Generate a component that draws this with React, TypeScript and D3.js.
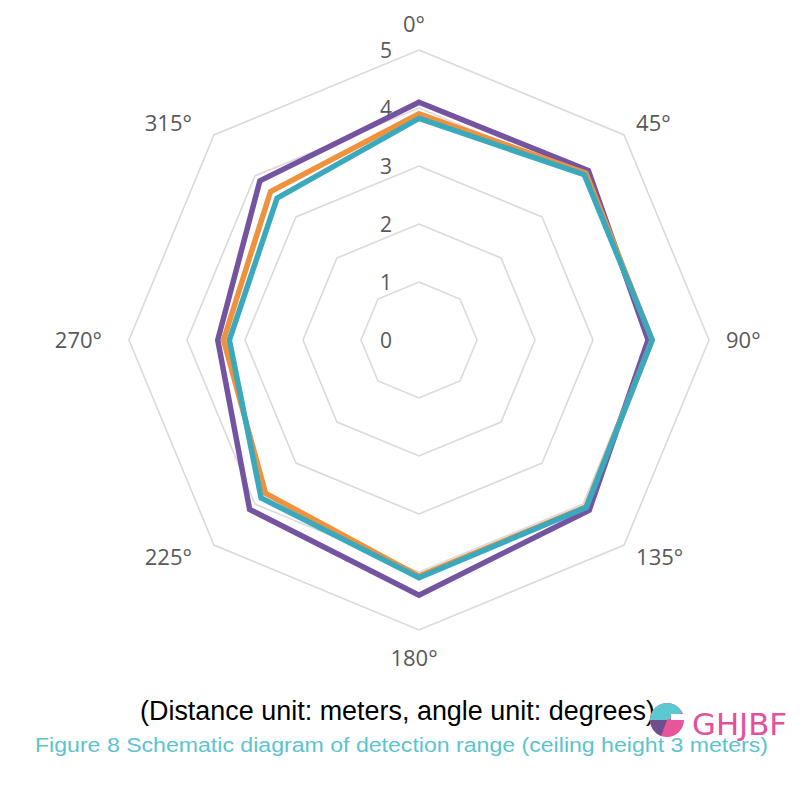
import React from "react";
import * as d3 from "d3";

const angleLabels = ["0°", "45°", "90°", "135°", "180°", "225°", "270°", "315°"];
const tickValues = [0, 1, 2, 3, 4, 5];
const seriesPurple = [4.1, 4.13, 3.95, 4.15, 4.4, 4.13, 3.47, 3.88];
const seriesOrange = [3.9, 4.07, 4.02, 4.07, 4.07, 3.74, 3.37, 3.62];
const seriesTeal = [3.82, 4.03, 4.02, 4.08, 4.1, 3.85, 3.27, 3.46];

const seriesList = [
  { name: "purple", values: seriesPurple, color: "#7453a1" },
  { name: "orange", values: seriesOrange, color: "#f0913b" },
  { name: "teal", values: seriesTeal, color: "#3aa9be" },
];

const caption1 = "(Distance unit: meters, angle unit: degrees)";
const caption2 = "Figure 8 Schematic diagram of detection range (ceiling height 3 meters)";
const logoText = "GHJBF";

export default function App() {
  const W = 800;
  const H = 800;
  const cx = 419;
  const cy = 340;
  const rScale = d3.scaleLinear().domain([0, 5]).range([0, 290]);
  const aScale = d3.scaleLinear().domain([0, angleLabels.length]).range([0, 2 * Math.PI]);

  const radial = d3
    .lineRadial<number>()
    .angle((_, i) => aScale(i))
    .radius((d) => rScale(d))
    .curve(d3.curveLinearClosed);

  const gridLevels = tickValues.filter((v) => v > 0);
  const labelR = 307;
  const font = "'Open Sans', sans-serif";

  return (
    <svg
      width={W}
      height={H}
      viewBox={`0 0 ${W} ${H}`}
      style={{ position: "absolute", left: 0, top: 0, background: "#fff" }}
    >
      <rect x={0} y={0} width={W} height={H} fill="#fff" />
      <g transform={`translate(${cx},${cy})`}>
        {gridLevels.map((lv) => (
          <path
            key={lv}
            d={radial(angleLabels.map(() => lv)) || ""}
            fill="none"
            stroke="#dadada"
            strokeWidth={1.6}
          />
        ))}
        {seriesList.map((s) => (
          <path
            key={s.name}
            d={radial(s.values) || ""}
            fill="none"
            stroke={s.color}
            strokeWidth={5.5}
            strokeLinejoin="miter"
          />
        ))}
        {tickValues.map((v) => (
          <text
            key={v}
            x={-27}
            y={-rScale(v)}
            dy="0.36em"
            textAnchor="end"
            fontFamily={font}
            fontSize={21}
            fill="#595959"
          >
            {v}
          </text>
        ))}
        {angleLabels.map((lab, i) => {
          const a = aScale(i);
          const sx = Math.sin(a);
          const sy = -Math.cos(a);
          let x = labelR * sx;
          const y = labelR * sy;
          let anchor: "start" | "middle" | "end" = "middle";
          if (sx > 0.01) anchor = "start";
          else if (sx < -0.01) {
            anchor = "end";
            x -= 10;
          } else {
            x -= 5;
          }
          let dy = "0.35em";
          if (Math.abs(sx) < 0.01) dy = sy < 0 ? "-0.05em" : "0.85em";
          return (
            <text
              key={lab}
              x={x}
              y={y}
              dy={dy}
              textAnchor={anchor}
              fontFamily={font}
              fontSize={22}
              fill="#595959"
            >
              {lab}
            </text>
          );
        })}
      </g>
      <text
        x={140}
        y={720}
        fontFamily="'Liberation Sans', Arial, sans-serif"
        fontSize={27}
        fill="#000"
        textLength={515}
        lengthAdjust="spacingAndGlyphs"
      >
        {caption1}
      </text>
      <text
        x={35}
        y={752}
        fontFamily="'Liberation Sans', Arial, sans-serif"
        fontSize={20.5}
        fill="#5cc3cf"
        textLength={733}
        lengthAdjust="spacingAndGlyphs"
      >
        {caption2}
      </text>
      <g transform="translate(667,720)">
        <circle r={17} fill="#e8559a" />
        <path d={d3.arc()({ innerRadius: 0, outerRadius: 17, startAngle: -Math.PI / 2, endAngle: Math.PI / 2 - 0.45 }) || ""} fill="#5cc8d0" />
        <path d={d3.arc()({ innerRadius: 0, outerRadius: 17, startAngle: Math.PI + 0.35, endAngle: (3 * Math.PI) / 2 }) || ""} fill="#6b4f8e" />
        <rect x={4} y={-6} width={14} height={6} fill="#fff" />
      </g>
      <text
        x={692}
        y={735}
        fontFamily="'DejaVu Sans Condensed', 'DejaVu Sans', sans-serif"
        fontSize={30}
        fill="#e4509a"
        textLength={95}
        lengthAdjust="spacingAndGlyphs"
      >
        {logoText}
      </text>
    </svg>
  );
}
